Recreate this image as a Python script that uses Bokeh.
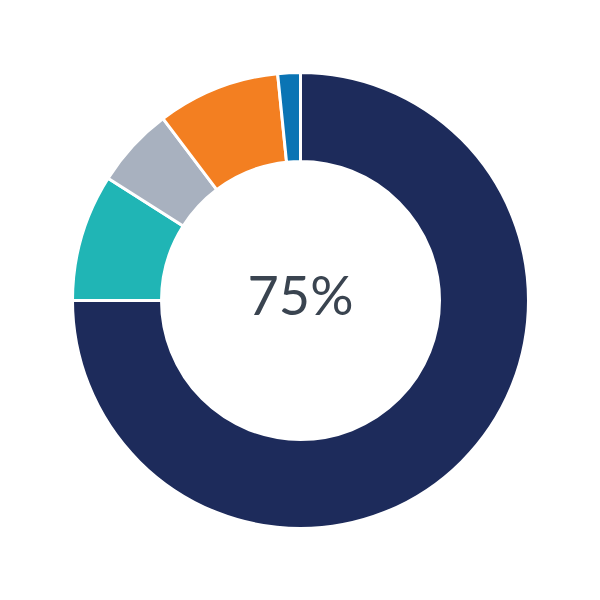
import math
from bokeh.plotting import figure
from bokeh.models import Range1d, ColumnDataSource
from bokeh.core.properties import value
from bokeh.embed import file_html
from bokeh.resources import INLINE

categories = ["Navy", "Teal", "Gray", "Orange", "Blue"]
shares = [75.0, 9.0, 5.7, 8.7, 1.6]
colors = ["#1d2b5b", "#20b5b5", "#a8b1bf", "#f37f21", "#0a74b4"]
center_label = "75%"

W = H = 592
CX, CY = 300, 292
p = figure(width=W, height=H, output_backend="svg", toolbar_location=None,
           x_range=Range1d(0, W), y_range=Range1d(0, H), min_border=0)
p.axis.visible = False
p.grid.visible = False
p.outline_line_color = None
p.background_fill_color = "white"

total = sum(shares)
starts, ends = [], []
acc = 0.0
for s in shares:
    a0 = math.pi / 2 - 2 * math.pi * acc / total
    acc += s
    a1 = math.pi / 2 - 2 * math.pi * acc / total
    starts.append(a0)
    ends.append(a1)

src = ColumnDataSource(dict(cat=categories, share=shares, color=colors,
                            start=starts, end=ends))
p.annular_wedge(x=CX, y=CY, inner_radius=139, outer_radius=228,
                start_angle="start", end_angle="end", direction="clock",
                fill_color="color", line_color="white", line_width=3,
                source=src)

p.text(x=[CX], y=[CY + 6], text=[center_label], text_font=value("Lato"),
       text_font_size="54px", text_color="#3a4450", text_align="center",
       text_baseline="alphabetic")

open("out.html", "w").write(file_html(p, INLINE))
